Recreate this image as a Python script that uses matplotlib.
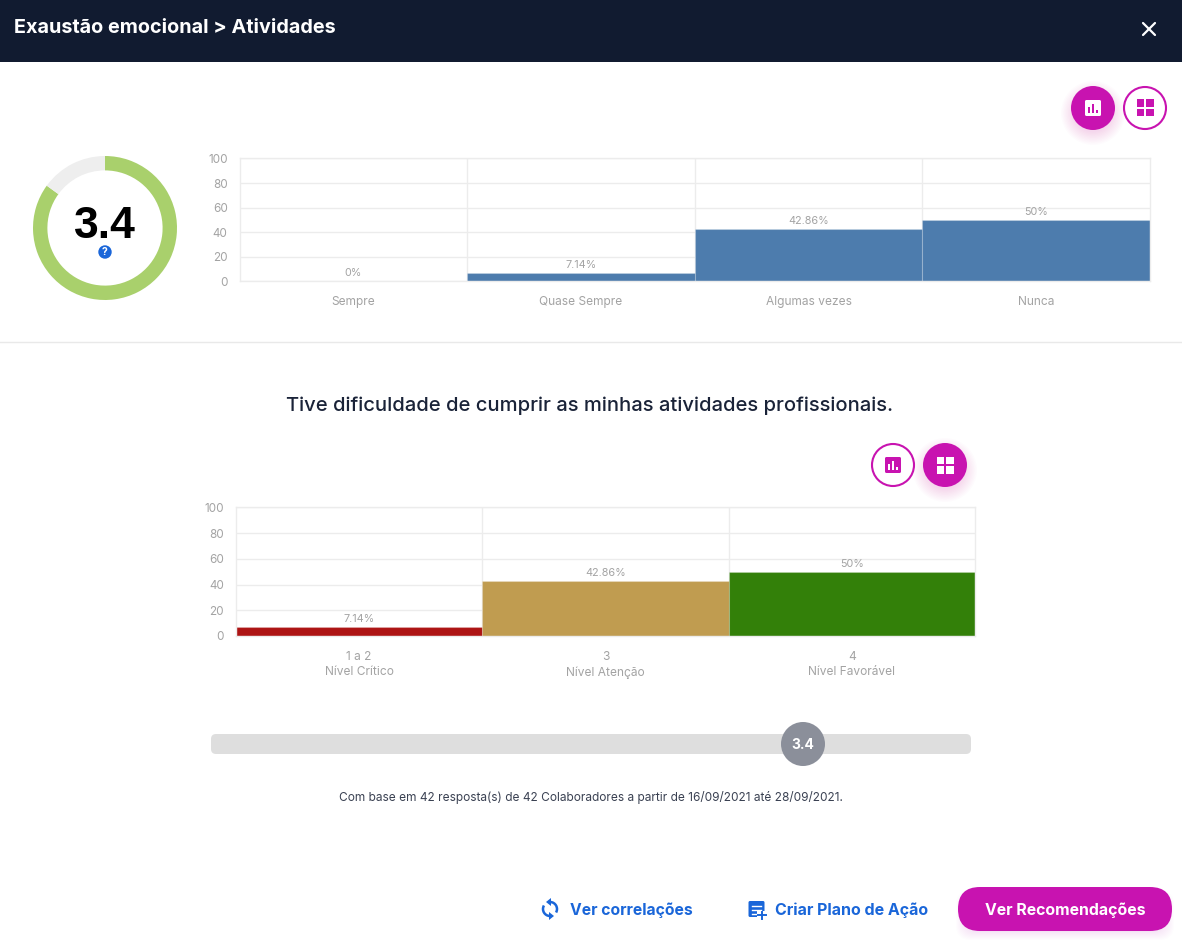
import matplotlib
matplotlib.use("Agg")
import matplotlib.pyplot as plt
from matplotlib.patches import Rectangle, Circle, FancyBboxPatch, Arc, Polygon

plt.rcParams['font.family'] = ['Inter', 'DejaVu Sans']

W, H = 1182, 946

# dados dos graficos
score = 3.4
score_max = 4
respostas = ["Sempre", "Quase Sempre", "Algumas vezes", "Nunca"]
respostas_pct = [0, 7.14, 42.86, 50]
respostas_lbl = ["0%", "7.14%", "42.86%", "50%"]
niveis = ["1 a 2\nNível Crítico", "3\nNível Atenção", "4\nNível Favorável"]
niveis_pct = [7.14, 42.86, 50]
niveis_lbl = ["7.14%", "42.86%", "50%"]
niveis_cores = ["#ad1414", "#c09c50", "#338009"]
y_ticks = [0, 20, 40, 60, 80, 100]

MAGENTA = "#c813b0"
AZUL = "#1a66d9"
GRADE = "#ececec"
CINZA = "#a3a3a3"

fig = plt.figure(figsize=(W / 100, H / 100), dpi=100, facecolor="white")

# camada de fundo em pixels, para a parte de interface
ui = fig.add_axes([0, 0, 1, 1], zorder=0)
ui.set_xlim(0, W)
ui.set_ylim(H, 0)
ui.axis("off")


def caixa(x0, y0, x1, y1):
    return fig.add_axes([x0 / W, 1 - y1 / H, (x1 - x0) / W, (y1 - y0) / H], zorder=2)


def sombra(cx, cy, r):
    for i in range(10):
        ui.add_patch(Circle((cx, cy + 5), r + 10 - i * 1.4, fc=MAGENTA, ec="none", alpha=0.014))


def icone_barras(cx, cy, frente, fundo):
    ui.add_patch(FancyBboxPatch((cx - 7.5, cy - 7.5), 15, 15, boxstyle="round,pad=0.5,rounding_size=1.5",
                                fc=frente, ec="none", zorder=4))
    for dx, alt in [(-4, 6), (0, 9), (4, 3)]:
        ui.add_patch(Rectangle((cx + dx - 0.8, cy + 5 - alt), 1.7, alt, fc=fundo, ec="none", zorder=5))


def icone_grade(cx, cy, cor):
    for dx in (-8.5, 0.6):
        for dy in (-8.5, 0.6):
            ui.add_patch(Rectangle((cx + dx, cy + dy), 7.9, 7.9, fc=cor, ec="none", zorder=4))


def par_botoes(x1, x2, cy, ativo_barras):
    if ativo_barras:
        sombra(x1, cy, 22)
        ui.add_patch(Circle((x1, cy), 22, fc=MAGENTA, ec="none", zorder=3))
        icone_barras(x1, cy, "white", MAGENTA)
        ui.add_patch(Circle((x2, cy), 21, fc="white", ec=MAGENTA, lw=1.5, zorder=3))
        icone_grade(x2, cy, MAGENTA)
    else:
        sombra(x2, cy, 22)
        ui.add_patch(Circle((x1, cy), 21, fc="white", ec=MAGENTA, lw=1.5, zorder=3))
        icone_barras(x1, cy, MAGENTA, "white")
        ui.add_patch(Circle((x2, cy), 22, fc=MAGENTA, ec="none", zorder=3))
        icone_grade(x2, cy, "white")


def grafico(box, nomes, valores, rotulos, cores, pad, tam):
    ax = caixa(*box)
    n = len(nomes)
    ax.bar(range(n), valores, width=1, align="edge", color=cores, zorder=3,
           edgecolor=(1, 1, 1, 0.2), linewidth=0.8)
    ax.set_xlim(0, n)
    ax.set_ylim(0, 100)
    ax.set_yticks(y_ticks)
    ax.set_xticks([i + 0.5 for i in range(n)])
    ax.set_xticklabels(nomes, linespacing=1.35)
    ax.set_xticks(range(1, n), minor=True)
    ax.grid(True, which="major", axis="y", color=GRADE, lw=1, zorder=1)
    ax.grid(True, which="minor", axis="x", color=GRADE, lw=1, zorder=1)
    ax.tick_params(which="both", length=0)
    ax.tick_params(axis="y", labelsize=8.4, labelcolor=CINZA, pad=8.5)
    ax.tick_params(axis="x", labelsize=tam, labelcolor=CINZA, pad=pad)
    for s in ax.spines.values():
        s.set_color(GRADE)
        s.set_linewidth(1)
        s.set_zorder(4)
    for i, (v, r) in enumerate(zip(valores, rotulos)):
        ax.annotate(r, (i + 0.5, v), xytext=(0, 2.2), textcoords="offset points",
                    ha="center", va="bottom", fontsize=7.8, color=CINZA, zorder=5)
    return ax


# cabecalho
ui.add_patch(Rectangle((0, 0), W, 62, fc="#111b30", ec="none"))
ui.text(14, 28, "Exaustão emocional > Atividades", color="white", fontsize=14.25,
        fontweight="bold", va="center")
ui.plot([1143, 1155], [23, 35], color="white", lw=1.6, solid_capstyle="round")
ui.plot([1143, 1155], [35, 23], color="white", lw=1.6, solid_capstyle="round")

par_botoes(1093, 1145, 108, True)
par_botoes(893, 945, 465, False)

# rosca com a nota
rosca = caixa(33, 156, 177, 300)
rosca.pie([score, score_max - score], colors=["#a9d06c", "#eeeeee"], startangle=90, counterclock=False,
          radius=1, wedgeprops={"width": 0.2, "linewidth": 0})
rosca.set_xlim(-1, 1)
rosca.set_ylim(-1, 1)
rosca.patch.set_alpha(0)
ui.text(105, 226, "3.4", fontsize=32, fontweight="bold", family="Liberation Sans", ha="center", va="center",
        color="black", zorder=6)
ui.add_patch(Circle((105, 252), 6.7, fc=AZUL, ec="none", zorder=3))
ui.text(105, 252.3, "?", fontsize=7.5, fontweight="bold", color="white", ha="center", va="center", zorder=4)

# graficos de barras
grafico((239.5, 158.5, 1150, 281.5), respostas, respostas_pct, respostas_lbl, "#4d7cad", 10.7, 8.6)
grafico((236, 507.5, 975, 636), niveis, niveis_pct, niveis_lbl, niveis_cores, 10.7, 8.6)

ui.plot([0, W], [342.5, 342.5], color="#e9e9e9", lw=1)
ui.text(590, 405.5, "Tive dificuldade de cumprir as minhas atividades profissionais.", fontsize=14.5,
        fontweight="medium", color="#1a2338", ha="center", va="center")

# barra da nota
ui.add_patch(FancyBboxPatch((215, 738), 752, 12, boxstyle="round,pad=4,rounding_size=5", fc="#dedede", ec="none"))
ui.add_patch(Circle((803, 744), 22, fc="#8b8f9a", ec="none", zorder=3))
ui.text(803, 745, "3.4", fontsize=10, fontweight="bold", color="white", ha="center", va="center", zorder=4)
ui.text(590.5, 797, "Com base em 42 resposta(s) de 42 Colaboradores a partir de 16/09/2021 até 28/09/2021.",
        fontsize=8.56, color="#3a4152", ha="center", va="center")

# rodape
ui.add_patch(Arc((550, 909), 14, 14, theta1=-90, theta2=30, color=AZUL, lw=1.8))
ui.add_patch(Arc((550, 909), 14, 14, theta1=90, theta2=210, color=AZUL, lw=1.8))
ui.add_patch(Polygon([[546, 902], [551, 898], [551, 906]], fc=AZUL, ec="none"))
ui.add_patch(Polygon([[554, 916], [549, 912], [549, 920]], fc=AZUL, ec="none"))
ui.text(570, 910, "Ver correlações", fontsize=11.3, fontweight="bold", color=AZUL, va="center")

ui.add_patch(FancyBboxPatch((749, 901.5), 15, 15, boxstyle="round,pad=0.5,rounding_size=1.5", fc=AZUL, ec="none"))
for y, x1 in [(905.5, 761), (909.5, 761), (913.5, 756)]:
    ui.plot([751.5, x1], [y, y], color="white", lw=1)
ui.add_patch(Rectangle((757, 911), 10, 9, fc="white", ec="none"))
ui.plot([758, 765.5], [915, 915], color=AZUL, lw=1.4)
ui.plot([761.7, 761.7], [911.5, 919], color=AZUL, lw=1.4)
ui.text(775, 910, "Criar Plano de Ação", fontsize=11.5, fontweight="bold", color=AZUL, va="center")

for i in range(10):
    ui.add_patch(FancyBboxPatch((980 - i, 914 - i), 170 + 2 * i, 2 + 2 * i,
                                boxstyle="round,pad=15,rounding_size=15", fc=MAGENTA, ec="none", alpha=0.012))
ui.add_patch(FancyBboxPatch((980, 909), 170, 0.01, boxstyle="round,pad=22,rounding_size=22", fc=MAGENTA,
                            ec="none", zorder=3))
ui.text(1065, 910, "Ver Recomendações", fontsize=11.4, fontweight="bold", color="white", ha="center", va="center",
        zorder=4)

fig.savefig("out.png", dpi=100)
